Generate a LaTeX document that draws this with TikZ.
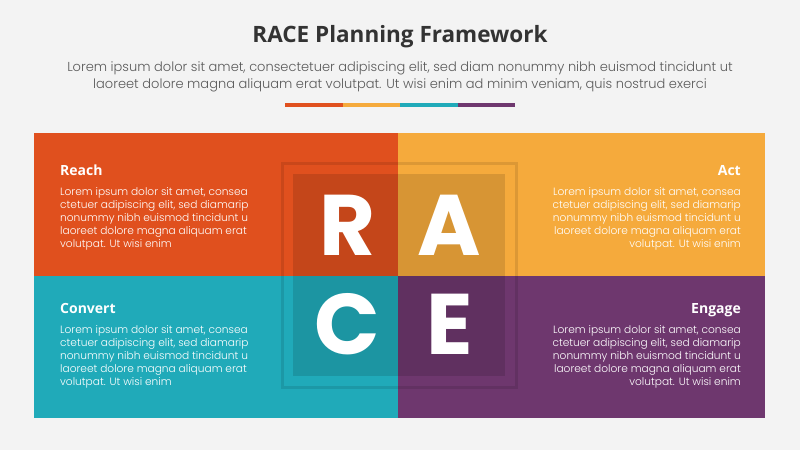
\documentclass[tikz,border=0pt]{standalone}
\usepackage{fontspec}
\setmainfont{Poppins}
\newfontfamily\headfont{Open Sans}
\newfontfamily\lightfont{Poppins Light}
\usetikzlibrary{positioning}
\definecolor{bgcol}{HTML}{F3F3F3}
\definecolor{reachcol}{HTML}{E0501E}
\definecolor{actcol}{HTML}{F5AA3C}
\definecolor{convcol}{HTML}{20AAB9}
\definecolor{engcol}{HTML}{6E376E}
\definecolor{titlecol}{HTML}{333333}
\definecolor{subcol}{HTML}{5A5A5A}
\tikzset{
  boxtitle/.style={text=white, inner sep=0pt, font=\headfont\bfseries\fontsize{14}{16}\selectfont},
  boxtext/.style={text=white, inner sep=0pt, font=\lightfont\fontsize{10.6}{13.2}\selectfont},
  bigletter/.style={text=white, inner sep=0pt, anchor=base, font=\bfseries\fontsize{86}{86}\selectfont}
}

\begin{document}
\begin{tikzpicture}[x=1pt, y=-1pt]
  \fill[bgcol] (0,0) rectangle (800,450);
  \useasboundingbox (0,0) rectangle (800,450);
  % heading
  \node (title) at (400,37) [text=titlecol, font=\headfont\bfseries\fontsize{22.5}{24}\selectfont] {RACE Planning Framework};
  \node (sub) at (400,77) [text=subcol, align=center, font=\lightfont\fontsize{13}{16.5}\selectfont]
    {Lorem ipsum dolor sit amet, consectetuer adipiscing elit, sed diam nonummy nibh euismod tincidunt ut\\
     laoreet dolore magna aliquam erat volutpat. Ut wisi enim ad minim veniam, quis nostrud exerci};
  \draw [line width=3.5, reachcol] (285,105) -- (342.5,105);
  \draw [line width=3.5, actcol] (342.5,105) -- (400,105);
  \draw [line width=3.5, convcol] (400,105) -- (457.5,105);
  \draw [line width=3.5, engcol] (457.5,105) -- (515,105);
  % quadrants
  \fill [reachcol] (34,133) rectangle (398,275.5);
  \fill [actcol] (398,133) rectangle (765,275.5);
  \fill [convcol] (34,275.5) rectangle (398,417.5);
  \fill [engcol] (398,275.5) rectangle (765,417.5);
  \draw [black, opacity=0.1, line width=3] (282,163) rectangle (516,387.5);
  \fill [black, opacity=0.12] (293,173.5) rectangle (505,376);
  \node (letR) at (348,255) [bigletter] {R};
  \node (letA) at (449,255) [bigletter] {A};
  \node (letC) at (347,354) [bigletter] {C};
  \node (letE) at (450,354) [bigletter] {E};
  % reach
  \node (reach) at (60,175) [boxtitle, anchor=base west] {Reach};
  \node (reachtxt) at (60,187) [boxtext, anchor=north west, align=left]
    {Lorem ipsum dolor sit amet, consea\\ ctetuer adipiscing elit, sed diamarip\\
     nonummy nibh euismod tincidunt u\\ laoreet dolore magna aliquam erat\\ volutpat. Ut wisi enim};
  % act
  \node (act) at (741,175) [boxtitle, anchor=base east] {Act};
  \node (acttxt) at (741,187) [boxtext, anchor=north east, align=right]
    {Lorem ipsum dolor sit amet, consea\\ ctetuer adipiscing elit, sed diamarip\\
     nonummy nibh euismod tincidunt u\\ laoreet dolore magna aliquam erat\\ volutpat. Ut wisi enim};
  % convert
  \node (convert) at (60,313) [boxtitle, anchor=base west] {Convert};
  \node (convtxt) at (60,325) [boxtext, anchor=north west, align=left]
    {Lorem ipsum dolor sit amet, consea\\ ctetuer adipiscing elit, sed diamarip\\
     nonummy nibh euismod tincidunt u\\ laoreet dolore magna aliquam erat\\ volutpat. Ut wisi enim};
  % engage
  \node (engage) at (741,313) [boxtitle, anchor=base east] {Engage};
  \node (engtxt) at (741,325) [boxtext, anchor=north east, align=right]
    {Lorem ipsum dolor sit amet, consea\\ ctetuer adipiscing elit, sed diamarip\\
     nonummy nibh euismod tincidunt u\\ laoreet dolore magna aliquam erat\\ volutpat. Ut wisi enim};
\end{tikzpicture}
\end{document}
